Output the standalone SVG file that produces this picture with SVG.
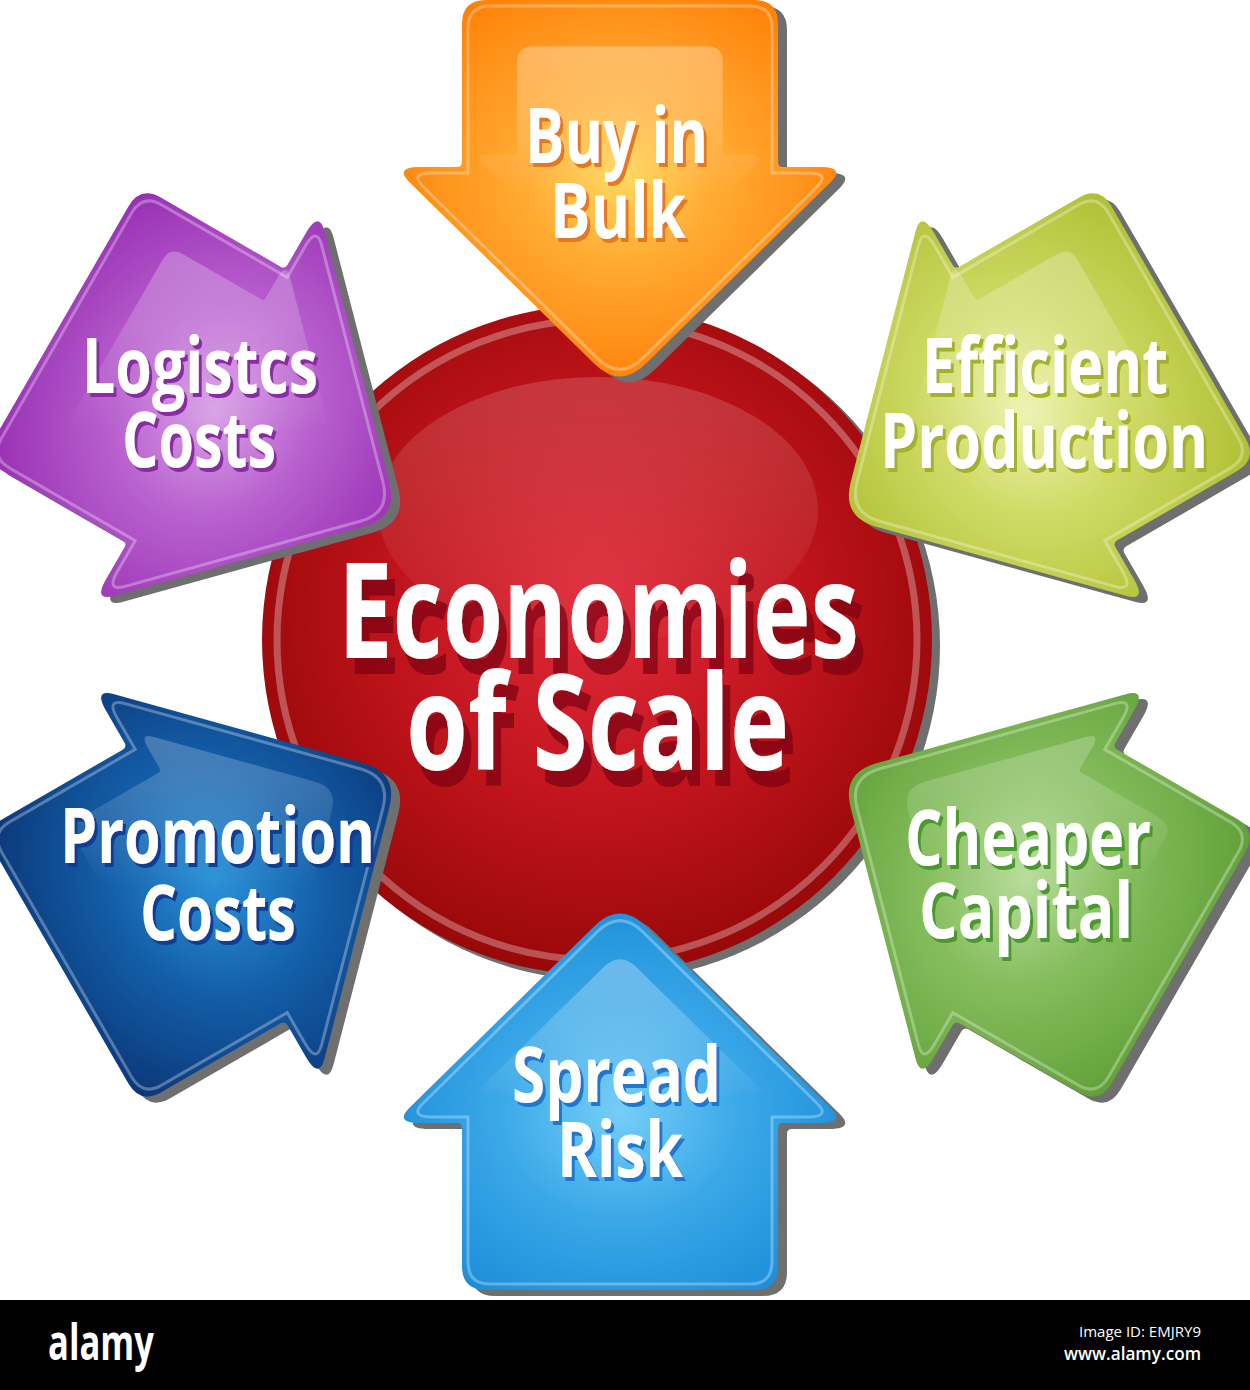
<svg xmlns="http://www.w3.org/2000/svg" width="1250" height="1390" viewBox="0 0 1250 1390">
<style>
.lbl{font-family:"Open Sans","Noto Sans","DejaVu Sans",sans-serif;font-weight:700;font-size:77px;fill:#ffffff}
.big{font-family:"Open Sans","Noto Sans","DejaVu Sans",sans-serif;font-weight:700;font-size:133px;fill:#ffffff}
.shadow{fill:#6f6f6f}
.rim{fill:none;stroke:#ffffff;stroke-opacity:0.3;stroke-width:3}
.gloss{fill:#ffffff}
.foot{font-family:"Open Sans","Noto Sans","DejaVu Sans",sans-serif;fill:#ffffff}
</style>
<defs>
<path id="arrow" d="M -158 -621 Q -158 -645 -134 -645 L 134 -645 Q 158 -645 158 -621 L 158 -483 Q 158 -478 163 -478 L 200 -478 Q 226 -478 210.3 -462.6 L 25.7 -281.2 Q 0 -256 -25.7 -281.2 L -210.3 -462.6 Q -226 -478 -200 -478 L -163 -478 Q -158 -478 -158 -483 Z"/>
<path id="rim" d="M -152 -617 Q -152 -639 -130 -639 L 130 -639 Q 152 -639 152 -617 L 152 -472 L 188 -472 Q 211 -472 196.7 -458 L 22.8 -286.9 Q 0 -264.5 -22.8 -286.9 L -196.7 -458 Q -211 -472 -188 -472 L -152 -472 Z"/>
<filter id="tsOrange" x="-5%" y="-10%" width="115%" height="130%"><feOffset in="SourceAlpha" dx="3" dy="4" result="o"/><feFlood flood-color="#e8781a"/><feComposite in2="o" operator="in" result="s"/><feMerge><feMergeNode in="s"/><feMergeNode in="SourceGraphic"/></feMerge></filter>
<filter id="tsLime" x="-5%" y="-10%" width="115%" height="130%"><feOffset in="SourceAlpha" dx="3" dy="4" result="o"/><feFlood flood-color="#a4b22a"/><feComposite in2="o" operator="in" result="s"/><feMerge><feMergeNode in="s"/><feMergeNode in="SourceGraphic"/></feMerge></filter>
<filter id="tsGreen" x="-5%" y="-10%" width="115%" height="130%"><feOffset in="SourceAlpha" dx="3" dy="4" result="o"/><feFlood flood-color="#4a9a2c"/><feComposite in2="o" operator="in" result="s"/><feMerge><feMergeNode in="s"/><feMergeNode in="SourceGraphic"/></feMerge></filter>
<filter id="tsSky" x="-5%" y="-10%" width="115%" height="130%"><feOffset in="SourceAlpha" dx="3" dy="4" result="o"/><feFlood flood-color="#1a78d0"/><feComposite in2="o" operator="in" result="s"/><feMerge><feMergeNode in="s"/><feMergeNode in="SourceGraphic"/></feMerge></filter>
<filter id="tsNavy" x="-5%" y="-10%" width="115%" height="130%"><feOffset in="SourceAlpha" dx="3" dy="4" result="o"/><feFlood flood-color="#0c3c98"/><feComposite in2="o" operator="in" result="s"/><feMerge><feMergeNode in="s"/><feMergeNode in="SourceGraphic"/></feMerge></filter>
<filter id="tsPurple" x="-5%" y="-10%" width="115%" height="130%"><feOffset in="SourceAlpha" dx="3" dy="4" result="o"/><feFlood flood-color="#8c2aa6"/><feComposite in2="o" operator="in" result="s"/><feMerge><feMergeNode in="s"/><feMergeNode in="SourceGraphic"/></feMerge></filter>
<filter id="tsRed" x="-5%" y="-10%" width="115%" height="135%"><feOffset in="SourceAlpha" dx="8" dy="16" result="o"/><feFlood flood-color="#7a060c" flood-opacity="0.7"/><feComposite in2="o" operator="in" result="s"/><feMerge><feMergeNode in="s"/><feMergeNode in="SourceGraphic"/></feMerge></filter>
<linearGradient id="fadeG" x1="0" y1="0" x2="0" y2="1">
<stop offset="0" stop-color="#fff" stop-opacity="0.30"/>
<stop offset="0.3" stop-color="#fff" stop-opacity="0.18"/>
<stop offset="0.6" stop-color="#fff" stop-opacity="0"/>
</linearGradient>
<mask id="fade" maskUnits="objectBoundingBox" maskContentUnits="objectBoundingBox" x="0" y="0" width="1" height="1">
<rect x="0" y="0" width="1" height="1" fill="url(#fadeG)"/>
</mask>
<linearGradient id="glossR" x1="0" y1="0" x2="0" y2="1">
<stop offset="0" stop-color="#fff" stop-opacity="0.16"/>
<stop offset="1" stop-color="#fff" stop-opacity="0.02"/>
</linearGradient>
<radialGradient id="gOrange" cx="0.5" cy="0.47" r="0.62">
<stop offset="0" stop-color="#ffd860"/>
<stop offset="0.35" stop-color="#ffac34"/>
<stop offset="0.8" stop-color="#ff8a12"/>
<stop offset="1" stop-color="#ff7a00"/>
</radialGradient>
<radialGradient id="gPurple" cx="0.5" cy="0.47" r="0.62">
<stop offset="0" stop-color="#d9a2e6"/>
<stop offset="0.4" stop-color="#b962cf"/>
<stop offset="1" stop-color="#9428b0"/>
</radialGradient>
<radialGradient id="gLime" cx="0.5" cy="0.47" r="0.62">
<stop offset="0" stop-color="#eef3b2"/>
<stop offset="0.4" stop-color="#d0db66"/>
<stop offset="1" stop-color="#adbc2e"/>
</radialGradient>
<radialGradient id="gNavy" cx="0.5" cy="0.47" r="0.62">
<stop offset="0" stop-color="#2c92d8"/>
<stop offset="0.45" stop-color="#135ea8"/>
<stop offset="1" stop-color="#0a3272"/>
</radialGradient>
<radialGradient id="gGreen" cx="0.5" cy="0.47" r="0.62">
<stop offset="0" stop-color="#b8dc9c"/>
<stop offset="0.4" stop-color="#86be5e"/>
<stop offset="1" stop-color="#5c9c33"/>
</radialGradient>
<radialGradient id="gSky" cx="0.5" cy="0.47" r="0.62">
<stop offset="0" stop-color="#76cef6"/>
<stop offset="0.45" stop-color="#3aa8e8"/>
<stop offset="1" stop-color="#188ad6"/>
</radialGradient>
<radialGradient id="gRed" cx="0.5" cy="0.45" r="0.55">
<stop offset="0" stop-color="#e02a3a"/>
<stop offset="0.55" stop-color="#c0141c"/>
<stop offset="1" stop-color="#980808"/>
</radialGradient>
</defs>
<rect width="1250" height="1390" fill="#ffffff"/>

<g id="node-economies-of-scale">
<circle cx="605" cy="646" r="335" fill="#6f6f6f"/>
<circle cx="597" cy="640" r="335" fill="url(#gRed)"/>
<ellipse cx="598" cy="510" rx="220" ry="133" fill="url(#glossR)"/>
<circle cx="597" cy="640" r="320" fill="none" stroke="#ffffff" stroke-opacity="0.3" stroke-width="7"/>
<text class="big" filter="url(#tsRed)" x="338" y="658" textLength="521" lengthAdjust="spacingAndGlyphs">Economies</text>
<text class="big" filter="url(#tsRed)" x="406" y="770" textLength="383" lengthAdjust="spacingAndGlyphs">of Scale</text>
</g>

<g id="node-buy-in-bulk">
<use href="#arrow" class="shadow" transform="translate(629 651)"/>
<use href="#arrow" fill="url(#gOrange)" transform="translate(620 645)"/>
<use href="#rim" class="rim" transform="translate(620 645)"/>
<g mask="url(#fade)"><use href="#arrow" class="gloss" transform="translate(620 625) translate(0 -456) scale(0.65) translate(0 456)"/></g>
<text class="lbl" filter="url(#tsOrange)" x="525" y="163" textLength="183" lengthAdjust="spacingAndGlyphs">Buy in</text>
<text class="lbl" filter="url(#tsOrange)" x="550" y="238" textLength="136" lengthAdjust="spacingAndGlyphs">Bulk</text>
</g>

<g id="node-efficient-production">
<use href="#arrow" class="shadow" transform="translate(629 651) rotate(60)"/>
<use href="#arrow" fill="url(#gLime)" transform="translate(620 645) rotate(60)"/>
<use href="#rim" class="rim" transform="translate(620 645) rotate(60)"/>
<g mask="url(#fade)"><use href="#arrow" class="gloss" transform="translate(620 625) rotate(60) translate(0 -456) scale(0.65) translate(0 456)"/></g>
<text class="lbl" filter="url(#tsLime)" x="922" y="393" textLength="246" lengthAdjust="spacingAndGlyphs">Efficient</text>
<text class="lbl" filter="url(#tsLime)" x="880" y="468" textLength="328" lengthAdjust="spacingAndGlyphs">Production</text>
</g>

<g id="node-cheaper-capital">
<use href="#arrow" class="shadow" transform="translate(629 651) rotate(120)"/>
<use href="#arrow" fill="url(#gGreen)" transform="translate(620 645) rotate(120)"/>
<use href="#rim" class="rim" transform="translate(620 645) rotate(120)"/>
<g mask="url(#fade)"><use href="#arrow" class="gloss" transform="translate(620 625) rotate(120) translate(0 -456) scale(0.65) translate(0 456)"/></g>
<text class="lbl" filter="url(#tsGreen)" x="905" y="865" textLength="246" lengthAdjust="spacingAndGlyphs">Cheaper</text>
<text class="lbl" filter="url(#tsGreen)" x="919" y="938" textLength="214" lengthAdjust="spacingAndGlyphs">Capital</text>
</g>

<g id="node-spread-risk">
<use href="#arrow" class="shadow" transform="translate(629 651) rotate(180)"/>
<use href="#arrow" fill="url(#gSky)" transform="translate(620 645) rotate(180)"/>
<use href="#rim" class="rim" transform="translate(620 645) rotate(180)"/>
<g mask="url(#fade)"><use href="#arrow" class="gloss" transform="translate(620 625) rotate(180) translate(0 -456) scale(0.65) translate(0 456)"/></g>
<text class="lbl" filter="url(#tsSky)" x="512" y="1102" textLength="209" lengthAdjust="spacingAndGlyphs">Spread</text>
<text class="lbl" filter="url(#tsSky)" x="557" y="1177" textLength="126" lengthAdjust="spacingAndGlyphs">Risk</text>
</g>

<g id="node-promotion-costs">
<use href="#arrow" class="shadow" transform="translate(629 651) rotate(240)"/>
<use href="#arrow" fill="url(#gNavy)" transform="translate(620 645) rotate(240)"/>
<use href="#rim" class="rim" transform="translate(620 645) rotate(240)"/>
<g mask="url(#fade)"><use href="#arrow" class="gloss" transform="translate(620 625) rotate(240) translate(0 -456) scale(0.65) translate(0 456)"/></g>
<text class="lbl" filter="url(#tsNavy)" x="60" y="863" textLength="315" lengthAdjust="spacingAndGlyphs">Promotion</text>
<text class="lbl" filter="url(#tsNavy)" x="140" y="940" textLength="156" lengthAdjust="spacingAndGlyphs">Costs</text>
</g>

<g id="node-logistcs-costs">
<use href="#arrow" class="shadow" transform="translate(629 651) rotate(300)"/>
<use href="#arrow" fill="url(#gPurple)" transform="translate(620 645) rotate(300)"/>
<use href="#rim" class="rim" transform="translate(620 645) rotate(300)"/>
<g mask="url(#fade)"><use href="#arrow" class="gloss" transform="translate(620 625) rotate(300) translate(0 -456) scale(0.65) translate(0 456)"/></g>
<text class="lbl" filter="url(#tsPurple)" x="82" y="393" textLength="236" lengthAdjust="spacingAndGlyphs">Logistcs</text>
<text class="lbl" filter="url(#tsPurple)" x="122" y="467" textLength="154" lengthAdjust="spacingAndGlyphs">Costs</text>
</g>

<g id="connectors"></g>

<g id="footer">
<rect x="0" y="1300" width="1250" height="90" fill="#000000"/>
<text class="foot" x="48" y="1360" font-size="50" font-weight="700" textLength="106" lengthAdjust="spacingAndGlyphs">alamy</text>
<text class="foot" x="1079" y="1337" font-size="14" textLength="122" lengthAdjust="spacingAndGlyphs">Image ID: EMJRY9</text>
<text class="foot" x="1064" y="1360" font-size="18" font-weight="600" textLength="137" lengthAdjust="spacingAndGlyphs">www.alamy.com</text>
</g>
</svg>
